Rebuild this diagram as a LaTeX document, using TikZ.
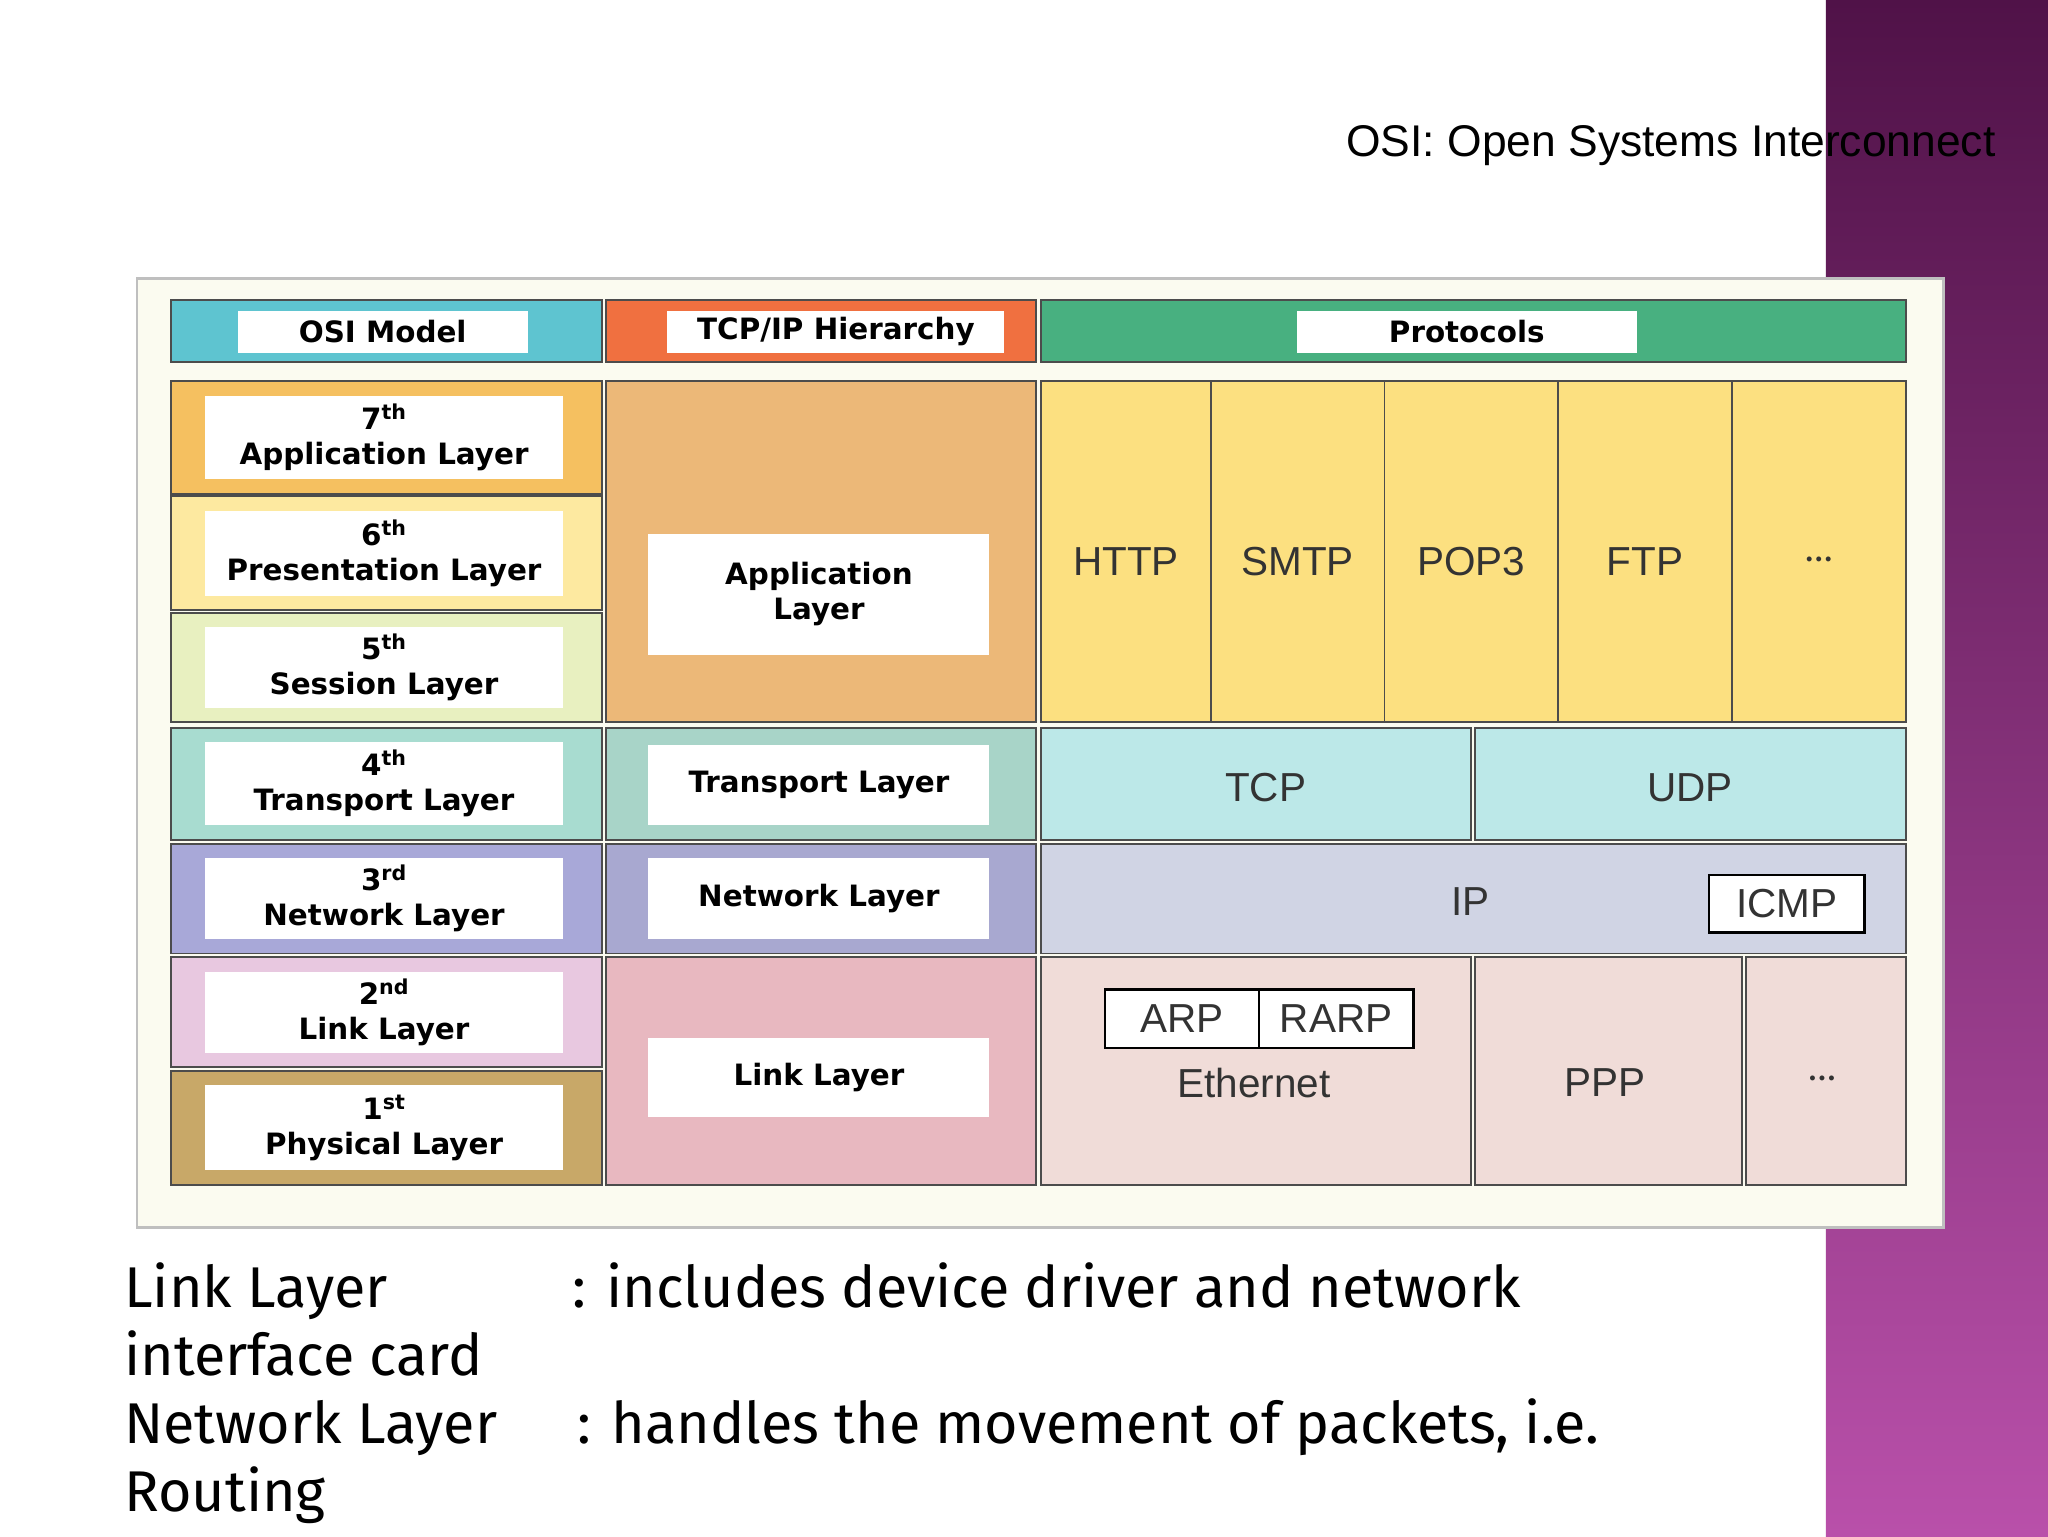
\documentclass[tikz,border=0pt]{standalone}
\usepackage{fontspec}
\setmainfont{DejaVu Sans}
\newfontfamily\arialf{Liberation Sans}
\newfontfamily\bodyf{Fira Sans}
\begin{document}
\begin{tikzpicture}[x=1pt,y=-1pt,
  cell/.style={draw=black!70,line width=1.5pt},
  wbox/.style={fill=white,draw=none,align=center,font=\bfseries\fontsize{22.5}{27}\selectfont,inner sep=0pt},
  prot/.style={font=\arialf\fontsize{31}{34}\selectfont,text=black!80},
  body/.style={font=\bodyf\fontsize{44}{50}\selectfont,anchor=base west,inner sep=0pt}]
\useasboundingbox (0,0) rectangle (1568,1176);
\fill[white] (0,0) rectangle (1568,1176);
\shade[top color={rgb,255:red,80;green,18;blue,72},bottom color={rgb,255:red,185;green,80;blue,170}] (1398,0) rectangle (1568,1176);
\node[font=\arialf\fontsize{34}{38}\selectfont,anchor=base east,inner sep=0pt] (title) at (1528,120) {OSI: Open Systems Interconnect};
\draw[fill={rgb,255:red,251;green,251;blue,240},draw=black!25,line width=2pt] (105,213) rectangle (1488,940);
% header
\definecolor{hc}{RGB}{94,196,208}\definecolor{ho}{RGB}{240,112,64}\definecolor{hg}{RGB}{72,176,128}
\draw[cell,fill=hc] (131,230) rectangle (461,277);
\draw[cell,fill=ho] (464,230) rectangle (793,277);
\draw[cell,fill=hg] (797,230) rectangle (1459,277);
\node[wbox,minimum width=222,minimum height=32] (h1) at (293,254) {OSI Model};
\node[wbox,minimum width=258,minimum height=32] (h2) at (640,254) {TCP/IP Hierarchy};
\node[wbox,minimum width=260,minimum height=32] (h3) at (1123,254) {Protocols};
% left column
\foreach \ya/\yb/\c/\n/\s/\t in {292/378/{245,192,96}/7/th/Application Layer,380/467/{253,233,160}/6/th/Presentation Layer,469/553/{232,240,192}/5/th/Session Layer,557/643/{168,220,208}/4/th/Transport Layer,646/730/{168,168,216}/3/rd/Network Layer,733/817/{232,200,224}/2/nd/Link Layer,820/907/{200,168,104}/1/st/Physical Layer}{
  \definecolor{cc}{RGB}{\c}
  \draw[cell,fill=cc] (131,\ya) rectangle (461,\yb);
  \node[wbox,minimum width=274,minimum height=\yb-\ya-22] (l\n) at (294,{(\ya+\yb)/2}) {\n\textsuperscript{\s}\\\t};
}
% middle column
\definecolor{ma}{RGB}{236,184,120}\definecolor{mt}{RGB}{168,212,200}\definecolor{mn}{RGB}{168,168,208}\definecolor{ml}{RGB}{232,184,192}
\draw[cell,fill=ma] (464,292) rectangle (793,553);
\draw[cell,fill=mt] (464,557) rectangle (793,643);
\draw[cell,fill=mn] (464,646) rectangle (793,730);
\draw[cell,fill=ml] (464,733) rectangle (793,907);
\node[wbox,minimum width=261,minimum height=93] (mapp) at (627,455) {Application\\Layer};
\node[wbox,minimum width=261,minimum height=62] (mtr) at (627,601) {Transport Layer};
\node[wbox,minimum width=261,minimum height=62] (mnet) at (627,688) {Network Layer};
\node[wbox,minimum width=261,minimum height=61] (mlink) at (627,825) {Link Layer};
% protocols
\definecolor{py}{RGB}{252,224,128}\definecolor{pt}{RGB}{188,232,232}\definecolor{pi}{RGB}{208,212,228}\definecolor{pl}{RGB}{240,220,216}
\foreach \xa/\xb/\t/\n in {797/927/HTTP/http,927/1060/SMTP/smtp,1060/1193/POP3/pop,1193/1326/FTP/ftp,1326/1459/{\fontsize{14}{14}\selectfont\textbullet\,\textbullet\,\textbullet}/dots1}{
  \draw[cell,fill=py] (\xa,292) rectangle (\xb,553);
  \node[prot] (\n) at ({(\xa+\xb)/2},430) {\t};
}
\draw[cell,fill=pt] (797,557) rectangle (1126,643);
\draw[cell,fill=pt] (1129,557) rectangle (1459,643);
\node[prot] (tcp) at (969,603) {TCP};
\node[prot] (udp) at (1294,603) {UDP};
\draw[cell,fill=pi] (797,646) rectangle (1459,730);
\node[prot] (ip) at (1126,690) {IP};
\node[prot,draw=black,line width=2pt,fill=white,minimum width=119,minimum height=44,inner sep=0pt] (icmp) at (1368,692) {ICMP};
\draw[cell,fill=pl] (797,733) rectangle (1126,907);
\draw[cell,fill=pl] (1129,733) rectangle (1334,907);
\draw[cell,fill=pl] (1337,733) rectangle (1459,907);
\node[prot,draw=black,line width=2pt,fill=white,minimum width=118,minimum height=45,inner sep=0pt] (arp) at (905,780) {ARP};
\node[prot,draw=black,line width=2pt,fill=white,minimum width=118,minimum height=45,inner sep=0pt] (rarp) at (1023,780) {RARP};
\node[prot] (eth) at (960,829) {Ethernet};
\node[prot] (ppp) at (1229,829) {PPP};
\node[prot] (dots2) at (1395,827) {\fontsize{14}{14}\selectfont\textbullet\,\textbullet\,\textbullet};
% body text
\node[body] (b1) at (95,1001) {Link Layer};
\node[body] (b2) at (438,1001) {: includes device driver and network};
\node[body] (b3) at (95,1053) {interface card};
\node[body] (b4) at (95,1105) {Network Layer};
\node[body] (b5) at (442,1105) {: handles the movement of packets, i.e.};
\node[body] (b6) at (95,1157) {Routing};
\end{tikzpicture}
\end{document}
